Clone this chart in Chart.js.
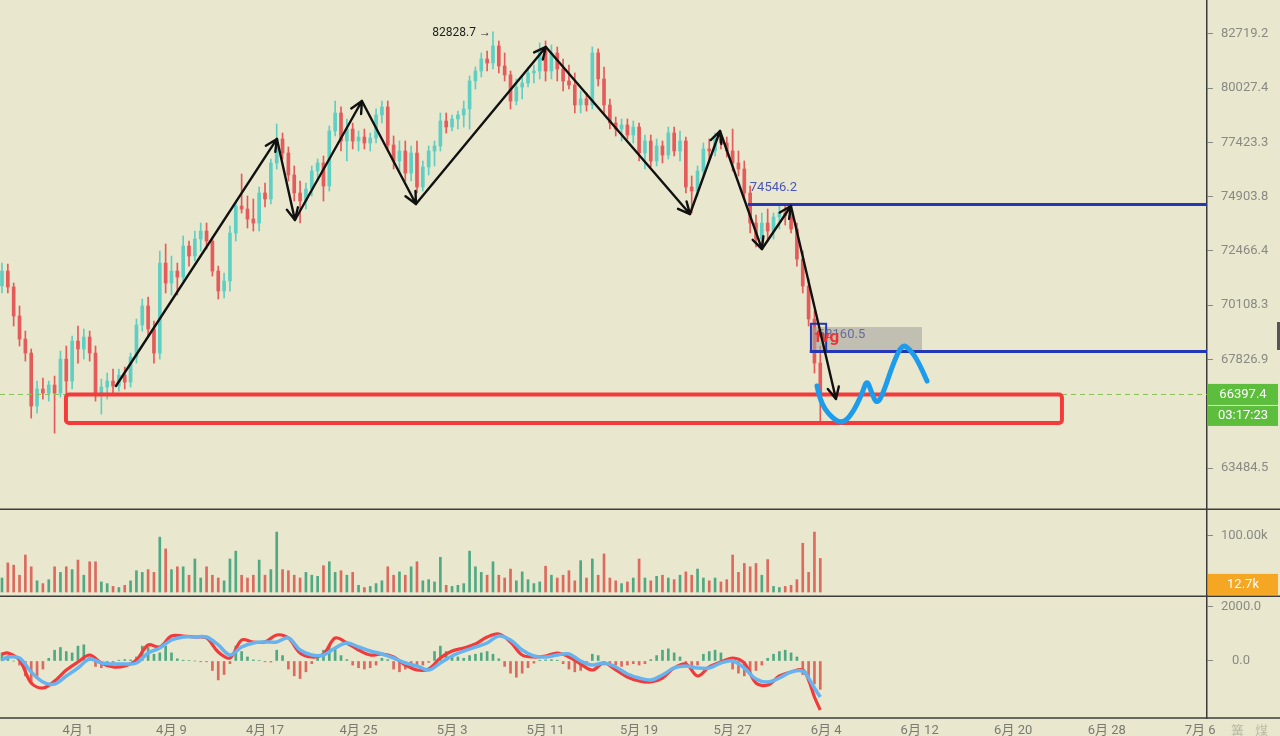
<!DOCTYPE html>
<html>
<head>
<meta charset="utf-8">
<script src="https://cdn.jsdelivr.net/npm/chart.js@4.4.1/dist/chart.umd.min.js"></script>
<style>
  html, body { margin: 0; padding: 0; background: #e9e7ce; overflow: hidden; }
  #wrap { position: relative; width: 1280px; height: 736px; }
  canvas { position: absolute; left: 0; }
  #priceCanvas { top: 0; }
  #volCanvas { top: 510px; }
  #macdCanvas { top: 597px; }
  .handle { position: absolute; right: 0; top: 322px; width: 3px; height: 28px; background: #555; }
  .corner { position: absolute; top: 720px; left: 1231px; font: 13px 'Noto Sans CJK SC'; color: #bdbba6; white-space: nowrap; letter-spacing: 4px; }
</style>
</head>
<body>
<div id="wrap">
  <canvas id="priceCanvas" width="1280" height="510"></canvas>
  <canvas id="volCanvas" width="1280" height="87"></canvas>
  <canvas id="macdCanvas" width="1280" height="139"></canvas>
  <div class="handle"></div>
  <div class="corner">篝 煤</div>
</div>
<script>
// ---- x axis: days counted from 4月 1 ----
const xTickDays = [0, 8, 16, 24, 32, 40, 48, 56, 64, 72, 80, 88, 96];
const xTickLabels = ['4月 1', '4月 9', '4月 17', '4月 25', '5月 3', '5月 11', '5月 19', '5月 27', '6月 4', '6月 12', '6月 20', '6月 28', '7月 6'];
const viewStart = -6.67, viewEnd = 96.58;
const firstCandleDay = -6.5, candleStep = 0.5; // 12h candles

// ---- price axis ----
const priceTicks = [82719.2, 80027.4, 77423.3, 74903.8, 72466.4, 70108.3, 67826.9, 63484.5];
const priceMin = 61880, priceMax = 84450;
const lastPrice = 66397.4;
const countdown = '03:17:23';
const highLabel = 82828.7;

// ---- candles ----
const opens = [
  70936, 71586, 70893, 69649, 68678, 68094, 65929, 66617, 66453, 66779,
  66453, 67845, 66941, 68594, 68262, 68762, 68094, 66453, 66698, 66941,
  66738, 67186, 66900, 67928, 69268, 70076, 69100, 68094, 71936, 71065,
  71586, 71325, 72686, 72245, 72998, 73354, 72908, 71586, 70718, 71151,
  73265, 74481, 74345, 73894, 73713, 75075, 74802, 76461, 77587, 76928,
  75904, 75075, 74709, 75258, 76088, 76461, 75396, 77967, 78828, 77493,
  78060, 77493, 77682, 77399, 77635, 78732, 79119, 77305, 76554, 77022,
  75996, 76928, 75350, 76275, 77022, 77258, 78444, 78156, 78540, 78732,
  79023, 80381, 80873, 81466, 81269, 82117, 81120, 80677, 79407, 80087,
  80283, 80775, 80873, 81866, 80873, 81766, 80972, 80381, 80185, 79215,
  79505, 79215, 81766, 80481, 79215, 78348, 78060, 78252, 77777, 78156,
  76928, 77493, 76554, 77258, 76834, 77872, 77022, 77493, 75350, 75166,
  76088, 77117, 77022, 77587, 77399, 77022, 76461, 76182, 75075, 73713,
  72998, 73713, 73354, 73984, 74164, 74029, 73443, 72113, 70936, 69521,
  67680
];
const highs = [
  71936, 71892, 71065, 70076, 69014, 68262, 66941, 67063, 66941, 67145,
  68177, 68387, 68804, 69226, 69100, 69014, 68387, 67022, 67268, 67434,
  67434, 67516, 68094, 69521, 70374, 70460, 69436, 72465, 72775, 72245,
  71936, 73132, 72908, 73354, 73713, 73713, 73087, 71804, 71499, 73578,
  74709, 75950, 74938, 74802, 75350, 75534, 76646, 78300, 77872, 77211,
  76321, 75626, 75534, 76321, 76646, 76787, 78204, 79407, 79119, 78540,
  78348, 77967, 78060, 77872, 79023, 79407, 79407, 77730, 77493, 77493,
  77258, 77493, 76554, 77258, 77493, 78828, 78828, 78732, 78924, 79407,
  80628, 81071, 81766, 81866, 82828.7, 82367, 81766, 80873, 80481, 80579,
  81071, 81170, 82267, 82367, 82167, 82067, 81466, 81170, 80775, 79893,
  79796, 82067, 81967, 81071, 79505, 78636, 78540, 78540, 78444, 78348,
  77777, 77777, 77587, 77493, 78156, 78156, 77967, 77682, 75858, 76321,
  77399, 77587, 77872, 77872, 77682, 78060, 77022, 76554, 75396, 74074,
  74164, 74345, 74164, 74481, 74546.2, 74481, 73713, 72465, 71238, 69861,
  68387
];
const lows = [
  70632, 70632, 69226, 68387, 67762, 65447, 65647, 66210, 66129, 64851,
  66291, 65929, 66617, 67680, 67845, 67762, 66129, 65607, 66210, 66453,
  66534, 66617, 66698, 67680, 69014, 68762, 67680, 67845, 70632, 70546,
  70546, 71151, 71804, 72024, 72465, 72552, 71368, 70374, 70417, 70718,
  72908, 74164, 73488, 73354, 73354, 74436, 74572, 76182, 76646, 75626,
  74709, 73713, 74345, 74938, 75626, 74709, 75166, 77730, 77022, 76554,
  77117, 77022, 77117, 77022, 77399, 78348, 77022, 76182, 75996, 75626,
  75626, 75075, 75166, 75904, 76321, 77022, 77872, 77967, 78060, 78156,
  78060, 79989, 80579, 80873, 80972, 80775, 80381, 79023, 79215, 79505,
  80087, 80283, 80481, 80381, 80481, 80381, 79893, 79989, 78828, 78828,
  78924, 79023, 80136, 78828, 78060, 77730, 77493, 77587, 77399, 76554,
  76182, 76275, 76321, 76461, 76646, 76787, 76554, 75075, 74164, 74938,
  75858, 76554, 76787, 77117, 76740, 76088, 75858, 74802, 73265, 72641,
  72552, 72908, 72998, 73443, 73623, 73265, 71804, 70632, 69226, 67268,
  65247
];
const closes = [
  71586, 70893, 69649, 68678, 68094, 65929, 66617, 66453, 66779, 66453,
  67845, 66941, 68594, 68262, 68762, 68094, 66453, 66698, 66941, 66738,
  67186, 66900, 67928, 69268, 70076, 69100, 68094, 71936, 71065, 71586,
  71325, 72686, 72245, 72998, 73354, 72908, 71586, 70718, 71151, 73265,
  74481, 74345, 73894, 73713, 75075, 74802, 76461, 77587, 76928, 75904,
  75075, 74709, 75258, 76088, 76461, 75396, 77967, 78828, 77493, 78060,
  77493, 77682, 77399, 77635, 78732, 79119, 77305, 76554, 77022, 75996,
  76928, 75350, 76275, 77022, 77258, 78444, 78156, 78540, 78732, 79023,
  80381, 80873, 81466, 81269, 82117, 81120, 80677, 79407, 80087, 80283,
  80775, 80873, 81866, 80873, 81766, 80972, 80381, 80185, 79215, 79505,
  79215, 81766, 80481, 79215, 78348, 78060, 78252, 77777, 78156, 76928,
  77493, 76554, 77258, 76834, 77872, 77022, 77493, 75350, 75166, 76088,
  77117, 77022, 77587, 77399, 77022, 76461, 76182, 75075, 73713, 72998,
  73713, 73354, 73984, 74164, 74029, 73443, 72113, 70936, 69521, 67680,
  66397.4
];

// ---- volume (thousands) ----
const volumesK = [
  25, 52, 48, 30, 66, 45, 20, 15, 22, 45,
  35, 45, 40, 57, 30, 54, 54, 18, 15, 10,
  8, 12, 20, 38, 35, 40, 35, 98, 77, 40,
  45, 45, 30, 59, 25, 45, 30, 25, 20, 59,
  73, 30, 25, 30, 57, 30, 40, 107, 40, 38,
  30, 25, 35, 30, 28, 47, 54, 35, 38, 30,
  35, 12, 8, 10, 15, 20, 45, 30, 36, 30,
  45, 54, 20, 22, 18, 62, 12, 10, 12, 15,
  73, 45, 35, 30, 54, 30, 25, 41, 20, 36,
  22, 15, 18, 46, 30, 25, 30, 38, 20, 56,
  25, 59, 30, 68, 25, 20, 15, 18, 25, 59,
  25, 20, 28, 30, 25, 22, 30, 36, 30, 41,
  25, 20, 25, 18, 22, 66, 35, 51, 45, 51,
  30, 58, 10, 8, 10, 12, 22, 87, 35, 107,
  60
];
const volumeTicksK = [100];
const currentVolumeK = 12.7;

// ---- MACD ----
const macdTicks = [2000, 0];
const macdDays = [-6.5, -6, -5, -4, -3, -2, -1, 0, 1, 2, 3, 4, 5, 6, 7, 8, 9, 10, 11, 12,
  13, 14, 15, 16, 17, 18, 19, 20, 21, 22, 23, 24, 25, 26, 27, 28, 29, 30, 31, 32,
  33, 34, 35, 36, 37, 38, 39, 40, 41, 42, 43, 44, 45, 46, 47, 48, 49, 50, 51, 52,
  53, 54, 55, 56, 57, 58, 59, 60, 61, 62, 62.5, 63, 63.5];
const difValues = [259, 296, 37, -815, -1000, -741, -333, -37, 222, -74, -222, -185, 37, 593, 519, 926, 926, 889, 852, 333,
  111, 778, 704, 704, 963, 852, 296, 148, 259, 852, 667, 407, 222, 259, 148, -148, -333, -296, 111, 370,
  481, 630, 889, 1000, 704, 222, 148, 185, 296, 148, -111, -333, -74, -333, -593, -741, -778, -630, -259, -111,
  -556, -222, -37, 111, -74, -815, -889, -556, -407, -333, -704, -1333, -1815];
const deaValues = [37, 148, 111, -407, -778, -852, -556, -259, 74, -74, -111, -111, -74, 296, 481, 778, 889, 889, 889, 593,
  222, 519, 667, 704, 704, 852, 407, 222, 222, 481, 667, 519, 370, 259, 111, -74, -185, -333, -74, 185,
  370, 519, 667, 926, 778, 407, 185, 148, 222, 259, 0, -148, -74, -222, -481, -630, -704, -519, -259, -185,
  -259, -259, -74, 0, -259, -667, -778, -630, -407, -370, -630, -1000, -1333];
const histValues = [
  300, 200, 0, -150, -550, -850, -650, -300, 100, 400,
  500, 350, 300, 550, 600, 150, -200, -250, -200, -50,
  30, 50, 40, 150, 550, 500, 250, 300, 550, 300,
  80, 30, 20, 0, -30, -30, -350, -700, -500, -100,
  550, 350, 150, 40, 20, -30, -40, 400, 200, -300,
  -550, -650, -400, -100, 200, 400, 550, 450, 200, 50,
  -150, -250, -300, -250, -150, 100, 50, -300, -400, -300,
  -250, -200, -150, -50, 350, 550, 350, 200, 150, 100,
  200, 250, 300, 350, 250, 80, -200, -450, -600, -450,
  -250, -80, 30, 40, 50, 30, -100, -300, -400, -350,
  -100, 250, 200, -150, -200, -150, -200, -150, -100, -150,
  -100, 50, 200, 400, 450, 300, 150, -100, -300, -150,
  250, 350, 400, 300, -50, -300, -450, -550, -500, -350,
  -150, 100, 250, 350, 400, 300, 150, -500, -650, -850,
  -1050
];

// ---- hand-drawn annotations, in (day, price) ----
const zigzag = [[3.25, 66740], [17.02, 77590], [18.56, 73850], [24.29, 79407], [28.91, 74570], [40.03, 82066],
  [52.35, 74118], [54.92, 77967], [58.51, 72553], [60.99, 74482], [64.84, 66210]];
const swingPath = [[63.22, 66737], [63.47, 66129], [64.33, 65526], [65.36, 65210], [66.21, 65607], [67.07, 66413],
  [67.49, 67023], [67.92, 66413], [68.35, 66010], [68.86, 66413], [69.72, 67638], [70.49, 68469],
  [71.17, 68261], [71.86, 67762], [72.63, 66941]];
const demandZone = [-1.03, 84.17, 66397.4, 65250];      // from, to, top, bottom
const levelHigh = [57.3, 74546.2];                        // from, price
const levelFvg = [62.6, 68160.5];
const fvgZone = [62.7, 72.2, 69183, 68160.5];
const fvgMark = [62.7, 64.0, 69320, 68160.5];

const candleDays = opens.map((_, i) => firstCandleDay + i * candleStep);

const upColor = '#5fcfc3', downColor = '#e35b5b';
const volUp = '#4fa983', volDown = '#dc6a5e';
const tickGray = '#8a8a83';
const tickFont = { family: 'Roboto', size: 13 };
const isUp = i => closes[i] >= opens[i];

function rightAxis(extra) {
  return Object.assign({
    position: 'right',
    afterFit: s => { s.width = 73; s.paddingTop = 0; s.paddingBottom = 0; },
    grid: { drawOnChartArea: false, tickLength: 6, tickColor: '#8a8a84', tickWidth: 1 },
    border: { color: '#3a3a3a', width: 1.5 }
  }, extra);
}

function hiddenX() {
  return { type: 'linear', min: viewStart, max: viewEnd, offset: false, display: false };
}

const separator = {
  id: 'separator',
  afterDraw(chart) {
    const ctx = chart.ctx;
    const yy = Math.min(chart.chartArea.bottom, chart.height - 0.75);
    ctx.save();
    ctx.strokeStyle = '#3d3d3a';
    ctx.lineWidth = 1.5;
    ctx.beginPath();
    ctx.moveTo(0, yy);
    ctx.lineTo(chart.width, yy);
    ctx.stroke();
    ctx.restore();
  }
};

function drawArrow(ctx, x1, y1, x2, y2) {
  const ang = Math.atan2(y2 - y1, x2 - x1), len = 13;
  ctx.beginPath();
  ctx.moveTo(x1, y1);
  ctx.lineTo(x2, y2);
  ctx.moveTo(x2 - len * Math.cos(ang - 0.45), y2 - len * Math.sin(ang - 0.45));
  ctx.lineTo(x2, y2);
  ctx.lineTo(x2 - len * Math.cos(ang + 0.45), y2 - len * Math.sin(ang + 0.45));
  ctx.stroke();
}

const annotate = {
  id: 'annotate',
  afterDatasetsDraw(chart) {
    const { ctx, chartArea: a, scales: { x, y } } = chart;
    const px = d => x.getPixelForValue(d), py = p => y.getPixelForValue(p);
    ctx.save();

    // last price dashed line
    ctx.strokeStyle = '#86c255';
    ctx.lineWidth = 1;
    ctx.setLineDash([5, 4]);
    ctx.beginPath();
    ctx.moveTo(a.left, py(lastPrice));
    ctx.lineTo(a.right, py(lastPrice));
    ctx.stroke();
    ctx.setLineDash([]);

    // fvg zone
    ctx.fillStyle = 'rgba(165,165,160,0.6)';
    ctx.fillRect(px(fvgZone[0]), py(fvgZone[2]), px(fvgZone[1]) - px(fvgZone[0]), py(fvgZone[3]) - py(fvgZone[2]));

    // horizontal levels
    ctx.strokeStyle = '#2536b6';
    ctx.lineWidth = 3;
    [levelHigh, levelFvg].forEach(l => {
      ctx.beginPath();
      ctx.moveTo(px(l[0]), py(l[1]));
      ctx.lineTo(a.right, py(l[1]));
      ctx.stroke();
    });
    ctx.lineWidth = 2;
    ctx.strokeRect(px(fvgMark[0]), py(fvgMark[2]), px(fvgMark[1]) - px(fvgMark[0]), py(fvgMark[3]) - py(fvgMark[2]));

    ctx.font = '13px Roboto';
    ctx.textBaseline = 'middle';
    ctx.textAlign = 'left';
    ctx.fillStyle = '#4a55b8';
    ctx.fillText(levelHigh[1].toFixed(1), px(levelHigh[0]) + 2, py(levelHigh[1]) - 17);
    ctx.fillStyle = '#666c9e';
    ctx.fillText(levelFvg[1].toFixed(1), px(fvgZone[0]) + 7, py(fvgZone[2]) + 8);
    ctx.fillStyle = '#f03232';
    ctx.font = 'bold 17px Roboto';
    ctx.textBaseline = 'alphabetic';
    ctx.fillText('fvg', px(fvgZone[0]) + 4, py(fvgZone[2]) + 15);

    // demand zone
    ctx.strokeStyle = '#f43b3b';
    ctx.lineWidth = 4;
    ctx.beginPath();
    ctx.roundRect(px(demandZone[0]), py(demandZone[2]), px(demandZone[1]) - px(demandZone[0]), py(demandZone[3]) - py(demandZone[2]), 3);
    ctx.stroke();

    // zigzag arrows
    ctx.strokeStyle = '#111';
    ctx.lineWidth = 2.4;
    ctx.lineCap = 'round';
    ctx.lineJoin = 'round';
    for (let i = 1; i < zigzag.length; i++) {
      drawArrow(ctx, px(zigzag[i - 1][0]), py(zigzag[i - 1][1]), px(zigzag[i][0]), py(zigzag[i][1]));
    }

    // highest price label
    const hi = highs.indexOf(highLabel);
    ctx.fillStyle = '#1e1e1e';
    ctx.font = '12px Roboto';
    ctx.textAlign = 'right';
    ctx.textBaseline = 'middle';
    ctx.fillText(highLabel.toFixed(1) + ' →', px(candleDays[hi]) - 2, py(highLabel) + 1);

    // hand-drawn projection
    const pts = swingPath.map(p => [px(p[0]), py(p[1])]);
    ctx.strokeStyle = '#1d9ceb';
    ctx.lineWidth = 5;
    ctx.beginPath();
    ctx.moveTo(pts[0][0], pts[0][1]);
    for (let i = 1; i < pts.length - 1; i++) {
      const mx = (pts[i][0] + pts[i + 1][0]) / 2, my = (pts[i][1] + pts[i + 1][1]) / 2;
      ctx.quadraticCurveTo(pts[i][0], pts[i][1], mx, my);
    }
    ctx.lineTo(pts[pts.length - 1][0], pts[pts.length - 1][1]);
    ctx.stroke();
    ctx.restore();
  },
  afterDraw(chart) {
    const { ctx, chartArea: a, scales: { y } } = chart;
    const yl = y.getPixelForValue(lastPrice);
    ctx.save();
    ctx.fillStyle = '#5dbd3c';
    ctx.fillRect(a.right + 1, yl - 10.5, 70, 21);
    ctx.fillRect(a.right + 1, yl + 11.5, 70, 20);
    ctx.fillStyle = '#fff';
    ctx.font = '13px Roboto';
    ctx.textAlign = 'center';
    ctx.textBaseline = 'middle';
    ctx.fillText(lastPrice.toFixed(1), a.right + 36, yl);
    ctx.fillText(countdown, a.right + 36, yl + 21.5);
    ctx.restore();
  }
};

new Chart(document.getElementById('priceCanvas'), {
  type: 'bar',
  data: {
    datasets: [
      {
        data: candleDays.map((d, i) => ({ x: d, y: [opens[i], closes[i]] })),
        backgroundColor: c => isUp(c.dataIndex) ? upColor : downColor,
        barThickness: 3, minBarLength: 1, grouped: false, order: 0
      },
      {
        data: candleDays.map((d, i) => ({ x: d, y: [lows[i], highs[i]] })),
        backgroundColor: c => isUp(c.dataIndex) ? upColor : downColor,
        barThickness: 1, grouped: false, order: 1
      }
    ]
  },
  options: {
    responsive: false, animation: false,
    layout: { padding: 0 },
    plugins: { legend: { display: false }, tooltip: { enabled: false } },
    scales: {
      x: hiddenX(),
      y: rightAxis({
        type: 'logarithmic', min: priceMin, max: priceMax,
        afterBuildTicks: s => { s.ticks = priceTicks.map(v => ({ value: v })); },
        ticks: { callback: v => Number(v).toFixed(1), color: tickGray, font: tickFont, padding: 8, crossAlign: 'center', autoSkip: false }
      })
    }
  },
  plugins: [annotate, separator]
});

const volumeBadge = {
  id: 'volumeBadge',
  afterDraw(chart) {
    const { ctx, chartArea: a, scales: { y } } = chart;
    const yv = y.getPixelForValue(currentVolumeK);
    ctx.save();
    ctx.fillStyle = '#f5a623';
    ctx.fillRect(a.right + 1, yv - 11, 70, 21);
    ctx.fillStyle = '#fff';
    ctx.font = '13px Roboto';
    ctx.textAlign = 'center';
    ctx.textBaseline = 'middle';
    ctx.fillText(currentVolumeK.toFixed(1) + 'k', a.right + 36, yv);
    ctx.restore();
  }
};

new Chart(document.getElementById('volCanvas'), {
  type: 'bar',
  data: {
    datasets: [{
      data: candleDays.map((d, i) => ({ x: d, y: volumesK[i] })),
      backgroundColor: c => isUp(c.dataIndex) ? volUp : volDown,
      barThickness: 2, grouped: false
    }]
  },
  options: {
    responsive: false, animation: false,
    layout: { padding: 0 },
    plugins: { legend: { display: false }, tooltip: { enabled: false } },
    scales: {
      x: hiddenX(),
      y: rightAxis({
        type: 'linear', min: -8.9, max: 146.4,
        afterBuildTicks: s => { s.ticks = volumeTicksK.map(v => ({ value: v })); },
        ticks: { callback: v => v.toFixed(2) + 'k', color: tickGray, font: tickFont, padding: 8, crossAlign: 'center' }
      })
    }
  },
  plugins: [volumeBadge, separator]
});

new Chart(document.getElementById('macdCanvas'), {
  type: 'bar',
  data: {
    datasets: [
      {
        type: 'line',
        data: macdDays.map((d, i) => ({ x: d, y: deaValues[i] })),
        borderColor: '#66b3ef', borderWidth: 3.5, pointRadius: 0, tension: 0.35, order: 0
      },
      {
        type: 'line',
        data: macdDays.map((d, i) => ({ x: d, y: difValues[i] })),
        borderColor: '#f23a3a', borderWidth: 3.2, pointRadius: 0, tension: 0.35, order: 1
      },
      {
        data: candleDays.map((d, i) => ({ x: d, y: histValues[i] })),
        backgroundColor: c => histValues[c.dataIndex] >= 0 ? volUp : volDown,
        barThickness: 2, grouped: false, order: 2
      }
    ]
  },
  options: {
    responsive: false, animation: false,
    layout: { padding: 0 },
    plugins: { legend: { display: false }, tooltip: { enabled: false } },
    scales: {
      x: {
        type: 'linear', min: viewStart, max: viewEnd, position: 'bottom', offset: false,
        afterBuildTicks: s => { s.ticks = xTickDays.map(v => ({ value: v })); },
        afterFit: s => { s.height = 18; s.paddingLeft = 0; s.paddingRight = 0; },
        ticks: { callback: (v, i) => xTickLabels[i], color: '#7a7a72', font: { family: "Roboto, 'Noto Sans CJK SC'", size: 13 }, padding: 5, maxRotation: 0, autoSkip: false },
        grid: { display: false, drawTicks: false },
        border: { display: false }
      },
      y: rightAxis({
        type: 'linear', min: -2111, max: 2370,
        afterBuildTicks: s => { s.ticks = macdTicks.map(v => ({ value: v })); },
        ticks: { callback: v => v.toFixed(1), color: tickGray, font: tickFont, padding: 8, crossAlign: 'center' }
      })
    }
  },
  plugins: [separator]
});
</script>
</body>
</html>
